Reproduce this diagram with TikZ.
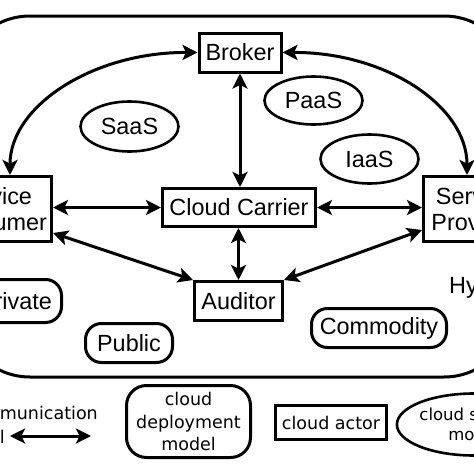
\documentclass[tikz,border=0pt]{standalone}
\usepackage{fontspec}
\setmainfont{Liberation Sans}
\newfontfamily\legfont{DejaVu Sans}
\usetikzlibrary{arrows.meta,shapes.geometric}
\begin{document}
\begin{tikzpicture}[x=1pt,y=-1pt,
  lbl/.style={font=\fontsize{23.4}{26}\selectfont, align=center, inner sep=0pt},
  actor/.style={lbl, draw, line width=3pt, rectangle},
  svc/.style={lbl, draw, line width=2.6pt, ellipse},
  dep/.style={lbl, draw, line width=3pt, rounded corners=16pt},
  tipa/.tip={Stealth[length=15pt,width=15pt,inset=3.5pt]},
  comm/.style={line width=3pt, tipa-tipa},
  leg/.style={font=\legfont\fontsize{17.5}{22.5}\selectfont, align=center, inner sep=0pt}]
\useasboundingbox (0,0) rectangle (474,474);
\clip (0,0) rectangle (474,474);
\fill[white] (0,0) rectangle (474,474);

% outer frame
\draw[line width=3pt, rounded corners=70pt] (-40,16) rectangle (514,377);

% actors
\node[actor, minimum width=82pt, minimum height=39pt] (broker) at (240,52.5) {Broker};
\node[actor, minimum width=153pt, minimum height=38pt] (carrier) at (239,207.5) {Cloud Carrier};
\node[actor, minimum width=117pt, minimum height=65pt] (consumer) at (-7,209) {Service\\Consumer};
\node[actor, minimum width=103pt, minimum height=65pt] (provider) at (475,209) {Service\\Provider};
\node[actor, minimum width=88pt, minimum height=39pt] (auditor) at (238.5,301) {Auditor};

% service models
\node[svc, minimum width=98pt, minimum height=50pt] (saas) at (129.5,126.5) {SaaS};
\node[svc, minimum width=98pt, minimum height=48pt] (paas) at (313.5,100.5) {PaaS};
\node[svc, minimum width=98pt, minimum height=49pt] (iaas) at (369.5,159) {IaaS};

% deployment models
\node[dep, minimum width=92pt, minimum height=43pt] (private) at (15.5,301) {Private};
\node[dep, minimum width=87pt, minimum height=39pt] (public) at (129,343) {Public};
\node[dep, minimum width=135pt, minimum height=39pt] (commodity) at (379,328) {Commodity};
\node[lbl, anchor=west] (hybrid) at (449,287) {Hybrid};

% communication
\draw[comm] (broker.west) .. controls (93,52) and (10,106) .. ([xshift=17pt]consumer.north);
\draw[comm] (broker.east) .. controls (386,52) and (467,106) .. ([xshift=-8pt]provider.north);
\draw[comm] (broker.south) -- (broker.south |- carrier.north);
\draw[comm] (consumer.east |- carrier.west) -- (carrier.west);
\draw[comm] (carrier.east) -- (carrier.east -| provider.west);
\draw[comm] ([yshift=-24pt]consumer.east) -- (auditor.north west);
\draw[comm] ([yshift=-21pt]provider.west) -- (auditor.north east);
\draw[comm] (carrier.south -| auditor.north) -- (auditor.north);

% legend
\node[leg, anchor=east] (commtxt) at (98,413) {communication};
\node[leg, anchor=east] (chantxt) at (5,437) {channel};
\coordinate (la) at (10,436);
\coordinate (lb) at (91,436);
\draw[comm] (la) -- (lb);
\node[leg, draw, line width=3pt, rounded corners=20pt, minimum width=124pt, minimum height=72pt] (legdep) at (188.5,421.5) {cloud\\deployment\\model};
\node[leg, draw, line width=3pt, minimum width=111pt, minimum height=34pt] (legactor) at (331,422.5) {cloud actor};
\node[leg, draw, ellipse, line width=2.6pt, minimum width=123pt, minimum height=62pt, font=\legfont\fontsize{16.5}{20}\selectfont] (legsvc) at (474,424.5) {cloud service\\model};
\end{tikzpicture}
\end{document}
